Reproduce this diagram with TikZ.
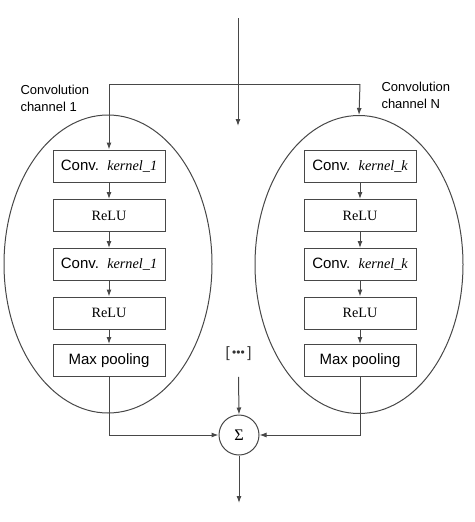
\documentclass[tikz,border=0pt]{standalone}
\usepackage{fontspec}
\setmainfont{Liberation Sans}
\newfontfamily\tmsfont[Scale=0.95]{Liberation Serif}
\usetikzlibrary{arrows.meta,shapes.geometric}

\begin{document}
\begin{tikzpicture}[x=1pt,y=-1pt,
  line width=1pt,draw=black!72,
  flow/.style={-{Latex[length=7pt,width=5pt]}},
  layer/.style={draw,minimum width=112pt,minimum height=32pt,inner sep=0pt,
    font=\fontsize{15}{16}\selectfont},
  channel/.style={draw,ellipse,minimum width=208pt,minimum height=298pt,inner sep=0pt},
  chanlabel/.style={align=left,anchor=north west,inner sep=0pt,
    font=\fontsize{13}{16.5}\selectfont}]
  \useasboundingbox (0,0) rectangle (474,522);

  % input and split
  \coordinate (in) at (238,18);
  \coordinate (split) at (238,84);
  \coordinate (mid) at (238,126);
  \coordinate (lsplit) at (109,84);
  \coordinate (rsplit) at (360,84);
  \draw[flow] (in) -- (mid);
  \draw (lsplit) -- (rsplit);

  % channel 1
  \node[channel] (ch1) at (108,264) {};
  \node[chanlabel] (lab1) at (20,85) {Convolution\\channel 1};
  \node[layer] (a1) at (109,166) {Conv.\ \ {\tmsfont\itshape kernel\_1}};
  \node[layer] (a2) at (109,215.5) {\tmsfont ReLU};
  \node[layer] (a3) at (109,264.5) {Conv.\ \ {\tmsfont\itshape kernel\_1}};
  \node[layer] (a4) at (109,313) {\tmsfont ReLU};
  \node[layer] (a5) at (109,360.5) {Max pooling};

  % channel N
  \node[channel] (chN) at (359,264.5) {};
  \node[chanlabel] (labN) at (381,82) {Convolution\\channel N};
  \node[layer] (b1) at (360,166) {Conv.\ \ {\tmsfont\itshape kernel\_k}};
  \node[layer] (b2) at (360,215.5) {\tmsfont ReLU};
  \node[layer] (b3) at (360,264.5) {Conv.\ \ {\tmsfont\itshape kernel\_k}};
  \node[layer] (b4) at (360,313) {\tmsfont ReLU};
  \node[layer] (b5) at (360,360.5) {Max pooling};

  \draw[flow] (lsplit) -- (a1.north);
  \draw[flow] (rsplit) -- (chN.north);
  \foreach \i/\j in {1/2,2/3,3/4,4/5} {
    \draw[flow] (a\i) -- (a\j);
    \draw[flow] (b\i) -- (b\j);
  }

  % sum
  \node[draw,circle,minimum size=40pt,inner sep=0pt,font=\fontsize{17}{18}\selectfont]
    (sum) at (239,435) {\tmsfont Σ};
  \node[font=\fontsize{15}{15}\selectfont,text=black!80] (dots) at (238.5,354)
    {[\,\raisebox{1.5pt}{\fontsize{12}{12}\selectfont •••}\,]};
  \coordinate (out) at (239,503);
  \draw[flow] (dots.south) ++(0,12) -- (sum.north);
  \draw[flow] (a5.south) |- (sum.west);
  \draw[flow] (b5.south) |- (sum.east);
  \draw[flow] (sum) -- (out);
\end{tikzpicture}
\end{document}
